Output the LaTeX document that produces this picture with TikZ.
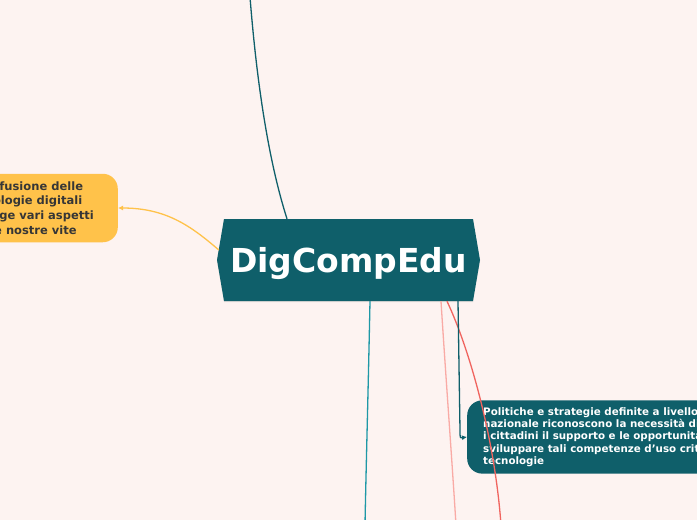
\documentclass[tikz,border=0pt]{standalone}
\usepackage{fontspec}
\setmainfont{DejaVu Sans}
\usetikzlibrary{arrows.meta}
\usetikzlibrary{shadows}

\definecolor{bgpink}{RGB}{253,243,241}
\definecolor{petrol}{RGB}{15,95,106}
\definecolor{sun}{RGB}{255,194,74}
\definecolor{lagoon}{RGB}{30,152,166}
\definecolor{rose}{RGB}{249,170,165}
\definecolor{coral}{RGB}{240,100,95}
\definecolor{ink}{RGB}{54,54,54}

\begin{document}
\begin{tikzpicture}[x=1pt, y=-1pt,
		branch/.style={line width=1.3pt},
		tip/.style={-{Latex[length=5pt,width=5pt]}},
		leaf/.style={rounded corners=15pt, inner ysep=7.6pt}]
		\clip (0,0) rectangle (697,520);
		\fill[bgpink] (0,0) rectangle (697,520);
		%\draw[thin, gray!25] (0,0) grid[step=50] (697,520);
		\fill[petrol, drop shadow={opacity=0.18, shadow xshift=0pt, shadow yshift=-1pt}] (224,219) -- (473,219) -- (480,260) -- (473,301) -- (224,301) -- (217,260) -- cycle;
		\node[minimum width=249pt, minimum height=82pt, inner sep=0pt, text depth=0pt, text=white, font=\bfseries\fontsize{33}{40}\selectfont] (root) at (348.5,260) {DigCompEdu};
		\node[leaf, fill=sun, text=ink, font=\bfseries\fontsize{11.5}{14.8}\selectfont, align=center, inner xsep=24pt, anchor=east] (spread) at (118,208) {La diffusione delle\\tecnologie digitali\\coinvolge vari aspetti\\delle nostre vite};
		\node[leaf, fill=petrol, text=white, font=\bfseries\fontsize{10.3}{12.3}\selectfont, align=left, inner xsep=16pt, inner ysep=7pt, anchor=west] (policy) at (467,437) {Politiche e strategie definite a livello\\nazionale riconoscono la necessità di dare a\\i cittadini il supporto e le opportunità per\\sviluppare tali competenze d’uso critico delle\\tecnologie};
		\coordinate (top) at (250,-3);
		\coordinate (lowA) at (365,525);
		\coordinate (lowB) at (456,525);
		\coordinate (lowC) at (501,525);
		\draw[branch, petrol] ([xshift=-61.5pt]root.north) .. controls (265,150) and (255,60) .. (top);
		\draw[branch, sun, tip] ([xshift=-5pt,yshift=10pt]root.west) .. controls (190,225) and (165,208) .. (spread.east);
		\draw[branch, lagoon] ([xshift=21.5pt]root.south) .. controls (368,400) and (366,470) .. (lowA);
		\draw[branch, rose] ([xshift=92.5pt]root.south) .. controls (446,380) and (452,460) .. (lowB);
		\draw[branch, coral] ([xshift=98.5pt]root.south) .. controls (470,350) and (495,440) .. (lowC);
		\draw[branch, petrol, tip] ([xshift=109.5pt]root.south) -- (460,430) .. controls (460,438) .. (policy.west);
	\end{tikzpicture}
\end{document}
